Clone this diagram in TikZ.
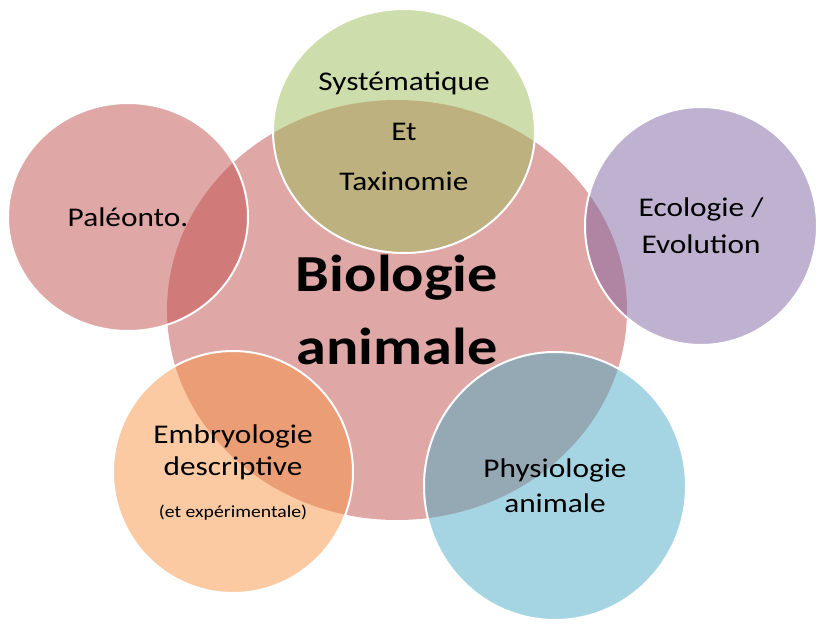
\documentclass[tikz,border=0pt]{standalone}
\usepackage{fontspec}
\setmainfont{Carlito}[FakeStretch=1.16]
\usepackage{tikz}
\usetikzlibrary{shapes.geometric}
\definecolor{redfill}{HTML}{C0504D}
\definecolor{greenfill}{HTML}{9BBB59}
\definecolor{purplefill}{HTML}{8064A2}
\definecolor{orangefill}{HTML}{F79646}
\definecolor{bluefill}{HTML}{4BACC6}
\tikzset{
      bubble/.style = {ellipse, draw=white, line width=2pt, fill opacity=0.5, text opacity=1, inner sep=0pt, align=center},
      bubbletext/.style = {font=\fontsize{27}{36}\selectfont},
    }

\begin{document}
\begin{tikzpicture}[x=1pt,y=-1pt]
          \useasboundingbox (0,0) rectangle (818,626);
          \node [bubble, draw=none, fill=redfill, minimum width=460, minimum height=420, font=\fontsize{52}{73}\selectfont\bfseries] (bio) at (397,310) {Biologie\\animale};

          \node [bubble, fill=greenfill, minimum width=262, minimum height=244, font=\fontsize{27}{50}\selectfont] (sys) at (404,131) {Systématique\\Et\\Taxinomie};
          \node [bubble, bubbletext, fill=redfill, minimum width=240, minimum height=228] (pal) at (128,217) {Paléonto.};
          \node [bubble, fill=purplefill, minimum width=232, minimum height=238, font=\fontsize{27}{37}\selectfont] (eco) at (701,226) {Ecologie /\\Evolution};
          \node [bubble, fill=orangefill, minimum width=240, minimum height=242, font=\fontsize{27}{32}\selectfont] (emb) at (233,472) {Embryologie\\descriptive\\[10pt]{\fontsize{17}{20}\selectfont(et expérimentale)}};
          \node [bubble, fill=bluefill, minimum width=262, minimum height=268, font=\fontsize{27}{35}\selectfont] (phy) at (555,486) {Physiologie\\animale};
\end{tikzpicture}
\end{document}
